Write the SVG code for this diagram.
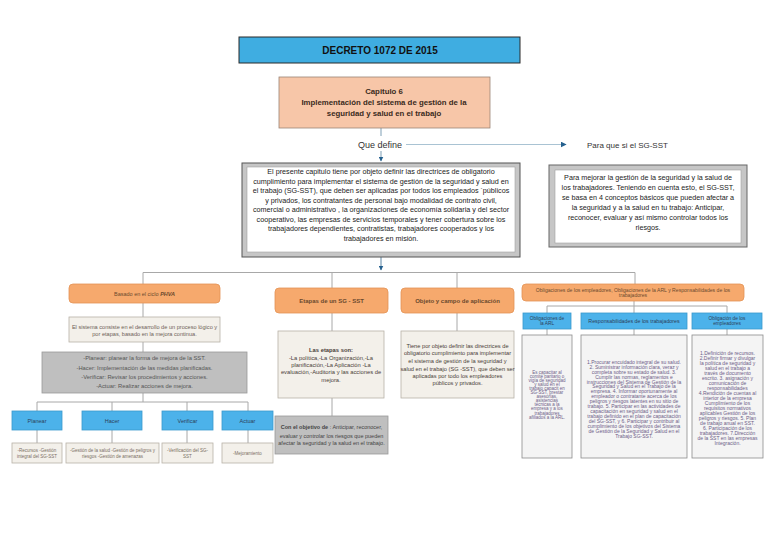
<svg xmlns="http://www.w3.org/2000/svg" width="768" height="543" viewBox="0 0 768 543">
<style>
text{font-family:"Liberation Sans",Arial,sans-serif;text-anchor:middle}
.conn line,.conn path{stroke:#a8a8a8;stroke-width:1;fill:none}
.orange{fill:#f6a96d;stroke:#e39356;stroke-width:0.8}
.blue{fill:#4cb2ea;stroke:#3b98cc;stroke-width:0.8}
.cream{fill:#f3f0ea;stroke:#b7b1a7;stroke-width:0.8}
.gray{fill:#bfbfbf;stroke:#9a9a9a;stroke-width:0.8}
.pan{fill:#f4f4f4;stroke:#8c8c8c;stroke-width:0.8}
.ot{font-size:5.5px;fill:#6b4a2e}
.bt{font-size:5.5px;fill:#2d3f5a}
.ct{font-size:4.5px;fill:#7a6e62}
.pt{fill:#6d6088}
.main{font-size:7.2px;fill:#222}
</style>
<defs>
<marker id="ah" viewBox="0 0 10 10" refX="9" refY="5" markerWidth="5" markerHeight="5" orient="auto">
<path d="M0,0 L10,5 L0,10 z" fill="#24608e"/>
</marker>
</defs>

<g class="conn">
<line x1="381" y1="128" x2="381" y2="136" style="stroke:#7f9fb5"/>
<line x1="406" y1="144.5" x2="566" y2="144.5" style="stroke:#a9c3d3;stroke-width:1.2" marker-end="url(#ah)"/>
<line x1="381" y1="151" x2="381" y2="161" style="stroke:#7f9fb5" marker-end="url(#ah)"/>
<line x1="381" y1="257" x2="381" y2="270" style="stroke:#5d86a5" marker-end="url(#ah)"/>
<path d="M143,284 V272.5 H635 V284"/>
<line x1="332" y1="272.5" x2="332" y2="288"/>
<line x1="457" y1="272.5" x2="457" y2="288"/>
<line x1="143" y1="303" x2="143" y2="317"/>
<line x1="143" y1="342" x2="143" y2="352"/>
<line x1="143" y1="393" x2="143" y2="402"/>
<path d="M37,411 V402 H248 V411"/>
<line x1="112" y1="402" x2="112" y2="411"/>
<line x1="187" y1="402" x2="187" y2="411"/>
<line x1="37" y1="430" x2="37" y2="443"/>
<line x1="112" y1="430" x2="112" y2="443"/>
<line x1="187" y1="430" x2="187" y2="443"/>
<line x1="248" y1="430" x2="248" y2="443"/>
<line x1="332" y1="313" x2="332" y2="331"/>
<line x1="332" y1="398" x2="332" y2="416"/>
<line x1="457" y1="313" x2="457" y2="331"/>
<line x1="634" y1="301" x2="634" y2="313"/>
<path d="M547,313 V306 H727 V313"/>
<line x1="547" y1="329" x2="547" y2="335"/>
<line x1="634" y1="329" x2="634" y2="335"/>
<line x1="727" y1="329" x2="727" y2="335"/>
</g>

<g id="decreto">
<rect x="239" y="37" width="281" height="26" fill="#3fade1" stroke="#2a2a2a" stroke-width="1"/>
<text x="380" y="53.5" style="font-size:10px;font-weight:bold;fill:#111">DECRETO 1072 DE 2015</text>
</g>

<g id="capitulo">
<rect x="279" y="77" width="211" height="51" fill="#f7c6a8" stroke="#9b8475" stroke-width="0.8"/>
<g style="font-size:7.8px;font-weight:bold;fill:#3a2a20">
<text x="384" y="93.5">Capitulo 6</text>
<text x="384" y="104.5">Implementación del sistema de gestión de la</text>
<text x="384" y="116">seguridad y salud en el trabajo</text>
</g>
</g>

<g id="quedefine"><text x="380" y="147.5" style="font-size:9px;fill:#333">Que define</text></g>
<g id="paraque"><text x="587" y="147.5" style="font-size:8px;fill:#333;text-anchor:start">Para que si el SG-SST</text></g>

<g id="definicion">
<rect x="242" y="163" width="278" height="94" fill="#c6c6c6" stroke="#555" stroke-width="1"/>
<rect x="247" y="167" width="268" height="85" fill="#fff" stroke="#a0a0a0" stroke-width="0.6"/>
<g class="main">
<text x="381" y="174">El presente capitulo tiene por objeto definir las directrices de obligatorio</text>
<text x="381" y="183.5">cumplimiento para implementar el sistema de gestión de la seguridad y salud en</text>
<text x="381" y="193">el trabajo (SG-SST), que deben ser aplicadas por todos los empleados ´públicos</text>
<text x="381" y="202.5">y privados, los contratantes de personal bajo modalidad de contrato civil,</text>
<text x="381" y="212">comercial o administrativo , la organizaciones de economía solidaria y del sector</text>
<text x="381" y="221.5">cooperativo, las empresas de servicios temporales y tener cobertura sobre los</text>
<text x="381" y="231">trabajadores dependientes, contratistas, trabajadores cooperados y los</text>
<text x="381" y="240.5">trabajadores en misión.</text>
</g>
</g>

<g id="mejorar">
<rect x="549" y="165" width="198" height="82" fill="#c6c6c6" stroke="#666" stroke-width="1"/>
<rect x="555" y="170" width="186" height="73" fill="#fff" stroke="#a0a0a0" stroke-width="0.6"/>
<g class="main">
<text x="648" y="179.5">Para mejorar la gestión de la seguridad y la salud de</text>
<text x="648" y="189.5">los trabajadores. Teniendo en cuenta esto, el SG-SST,</text>
<text x="648" y="199.5">se basa en 4 conceptos básicos que pueden afectar a</text>
<text x="648" y="209.5">la seguridad y a la salud en tu trabajo: Anticipar,</text>
<text x="648" y="219.5">reconocer, evaluar y así mismo controlar todos los</text>
<text x="648" y="229.5">riesgos.</text>
</g>
</g>

<g id="phva">
<rect class="orange" x="69" y="284" width="151" height="19" rx="4"/>
<text class="ot" x="144.5" y="295.5">Basado en el ciclo <tspan style="font-weight:bold;font-style:italic">PHVA</tspan></text>
</g>
<g id="sistema">
<rect class="cream" x="69" y="317" width="151" height="25"/>
<g style="font-size:5.6px;fill:#6e6258">
<text x="144.5" y="329">El sistema consiste en el desarrollo de un proceso lógico y</text>
<text x="144.5" y="335.8">por etapas, basado en la mejora continua.</text>
</g>
</g>
<g id="ciclo">
<rect class="gray" x="42" y="352" width="205" height="41"/>
<g style="font-size:5.8px;fill:#555">
<text x="144.5" y="359.8">-Planear: planear la forma de mejora de la SST.</text>
<text x="144.5" y="369.6">-Hacer: Implementación de las medidas planificadas.</text>
<text x="144.5" y="379">-Verificar: Revisar los procedimientos y acciones.</text>
<text x="144.5" y="388.3">-Actuar: Realizar acciones de mejora.</text>
</g>
</g>
<g id="planear"><rect class="blue" x="12" y="411" width="50" height="19"/><text class="bt" x="37" y="422.5">Planear</text></g>
<g id="hacer"><rect class="blue" x="82" y="411" width="60" height="19"/><text class="bt" x="112" y="422.5">Hacer</text></g>
<g id="verificar"><rect class="blue" x="162" y="411" width="51" height="19"/><text class="bt" x="187.5" y="422.5">Verificar</text></g>
<g id="actuar"><rect class="blue" x="222" y="411" width="51" height="19"/><text class="bt" x="247.5" y="422.5">Actuar</text></g>
<g id="planear-d"><rect class="cream" x="12" y="443" width="50" height="20"/>
<text class="ct" x="37" y="451.5">-Recursos -Gestión</text><text class="ct" x="37" y="457.5">integral del SG-SST</text></g>
<g id="hacer-d"><rect class="cream" x="66" y="443" width="93" height="20"/>
<text class="ct" x="112.5" y="451.5">-Gestión de la salud -Gestión de peligros y</text><text class="ct" x="112.5" y="457.5">riesgos -Gestión de amenazas</text></g>
<g id="verificar-d"><rect class="cream" x="162" y="443" width="51" height="20"/>
<text class="ct" x="187.5" y="451.5">-Verificación del SG-</text><text class="ct" x="187.5" y="457.5">SST</text></g>
<g id="actuar-d"><rect class="cream" x="222" y="443" width="51" height="20"/>
<text class="ct" x="247.5" y="454.5">-Mejoramiento</text></g>

<g id="etapas">
<rect class="orange" x="275" y="288" width="113" height="25" rx="4"/>
<text class="ot" x="331.5" y="302.5" style="font-size:6px;font-weight:bold">Etapas de un SG - SST</text>
</g>
<g id="etapas-d">
<rect class="cream" x="278" y="331" width="106" height="67"/>
<g style="font-size:5.8px;fill:#4a4038">
<text x="331" y="352" style="font-weight:bold">Las etapas son:</text>
<text x="331" y="359.7">-La política,-La Organización,-La</text>
<text x="331" y="367">planificación,-La Aplicación -La</text>
<text x="331" y="374.3">evaluación,-Auditoria y las acciones de</text>
<text x="331" y="382">mejora.</text>
</g>
</g>
<g id="objetivo">
<rect class="gray" x="275" y="416" width="113" height="38"/>
<g style="font-size:5.5px;fill:#444">
<text x="331.5" y="428.7"><tspan style="font-weight:bold">Con el objetivo de</tspan> : Anticipar, reconocer,</text>
<text x="331.5" y="437.5">evaluar y controlar los riesgos que pueden</text>
<text x="331.5" y="445.3">afectar la seguridad y la salud en el trabajo.</text>
</g>
</g>

<g id="objeto">
<rect class="orange" x="401" y="288" width="113" height="25" rx="4"/>
<text class="ot" x="457.5" y="302.5" style="font-size:6px;font-weight:bold">Objeto y campo de aplicación</text>
</g>
<g id="objeto-d">
<rect class="cream" x="401" y="331" width="113" height="67"/>
<g style="font-size:5.7px;fill:#4a4038">
<text x="457.5" y="348">Tiene por objeto definir las directrices de</text>
<text x="457.5" y="355.3">obligatorio cumplimiento para implementar</text>
<text x="457.5" y="362.7">el sistema de gestión de la seguridad y</text>
<text x="457.5" y="370.5">salud en el trabajo (SG -SST), que deben ser</text>
<text x="457.5" y="378">aplicadas por todo los empleadores</text>
<text x="457.5" y="385.3">públicos y privados.</text>
</g>
</g>

<g id="obligaciones">
<rect class="orange" x="522" y="284" width="222" height="17" rx="4"/>
<g class="ot" style="font-size:5.1px">
<text x="633" y="291.5">Obligaciones de los empleadores, Obligaciones de la ARL y Responsabilidades de los</text>
<text x="633" y="297.3">trabajadores</text>
</g>
</g>
<g id="arl">
<rect class="blue" x="523" y="313" width="48" height="16"/>
<text class="bt" x="547" y="319.6" style="font-size:4.8px">Obligaciones de</text>
<text class="bt" x="547" y="325.4" style="font-size:4.8px">la ARL</text>
</g>
<g id="resp">
<rect class="blue" x="581" y="313" width="106" height="16"/>
<text class="bt" x="634" y="322.8" style="font-size:5.3px">Responsabilidades de los trabajadores</text>
</g>
<g id="empl">
<rect class="blue" x="692" y="313" width="70" height="16"/>
<text class="bt" x="727" y="319.6" style="font-size:4.8px">Obligación de los</text>
<text class="bt" x="727" y="325.4" style="font-size:4.8px">empleadores</text>
</g>

<g id="arl-d">
<rect class="pan" x="522" y="335" width="50" height="123"/>
<g class="pt" style="font-size:4.5px">
<text x="547" y="373.5">Es capacitar al</text>
<text x="547" y="377.6">comité paritario o</text>
<text x="547" y="381.7">vigía de seguridad</text>
<text x="547" y="385.8">y salud en el</text>
<text x="547" y="389.9">trabajo capacit en</text>
<text x="547" y="394">SG-SST, prestar</text>
<text x="547" y="398.1">asesorías,</text>
<text x="547" y="402.2">asistencias</text>
<text x="547" y="406.3">técnicas a la</text>
<text x="547" y="410.4">empresa y a los</text>
<text x="547" y="414.5">trabajadores</text>
<text x="547" y="418.6">afiliados a la ARL.</text>
</g>
</g>

<g id="resp-d">
<rect class="pan" x="581" y="335" width="106" height="123"/>
<g class="pt" style="font-size:5px">
<text x="634" y="363.7">1.Procurar encuidado integral de su salud.</text>
<text x="634" y="368.65">2. Suministrar información clara, veraz y</text>
<text x="634" y="373.6">completa sobre su estado de salud. 3.</text>
<text x="634" y="378.55">Cumplir las normas, reglamentos e</text>
<text x="634" y="383.5">instrucciones del Sistema de Gestión de la</text>
<text x="634" y="388.45">Seguridad y Salud en el Trabajo de la</text>
<text x="634" y="393.4">empresa. 4. Informar oportunamente al</text>
<text x="634" y="398.35">empleador o contratante acerca de los</text>
<text x="634" y="403.3">peligros y riesgos latentes en su sitio de</text>
<text x="634" y="408.25">trabajo. 5. Participar en las actividades de</text>
<text x="634" y="413.2">capacitación en seguridad y salud en el</text>
<text x="634" y="418.15">trabajo definido en el plan de capacitación</text>
<text x="634" y="423.1">del SG-SST, y 6. Participar y contribuir al</text>
<text x="634" y="428.05">cumplimiento de los objetivos del Sistema</text>
<text x="634" y="433">de Gestión de la Seguridad y Salud en el</text>
<text x="634" y="437.95">Trabajo SG-SST.</text>
</g>
</g>

<g id="empl-d">
<rect class="pan" x="692" y="335" width="71" height="123"/>
<g class="pt" style="font-size:5px">
<text x="727.5" y="355">1.Definición de recursos.</text>
<text x="727.5" y="360">2.Definir firmar y divulgar</text>
<text x="727.5" y="365">la política de seguridad y</text>
<text x="727.5" y="370">salud en el trabajo a</text>
<text x="727.5" y="375">través de documento</text>
<text x="727.5" y="380">escrito. 3. asignación y</text>
<text x="727.5" y="385">comunicación de</text>
<text x="727.5" y="390">responsabilidades</text>
<text x="727.5" y="395">4.Rendición de cuentas al</text>
<text x="727.5" y="400">interior de la empresa</text>
<text x="727.5" y="405">Cumplimiento de los</text>
<text x="727.5" y="410">requisitos normativos</text>
<text x="727.5" y="415">aplicables Gestión de los</text>
<text x="727.5" y="420">peligros y riesgos. 5. Plan</text>
<text x="727.5" y="425">de trabajo anual en SST.</text>
<text x="727.5" y="430">6. Participación de los</text>
<text x="727.5" y="435">trabajadores. 7.Dirección</text>
<text x="727.5" y="440">de la SST en las empresas</text>
<text x="727.5" y="445">Integración.</text>
</g>
</g>
</svg>
